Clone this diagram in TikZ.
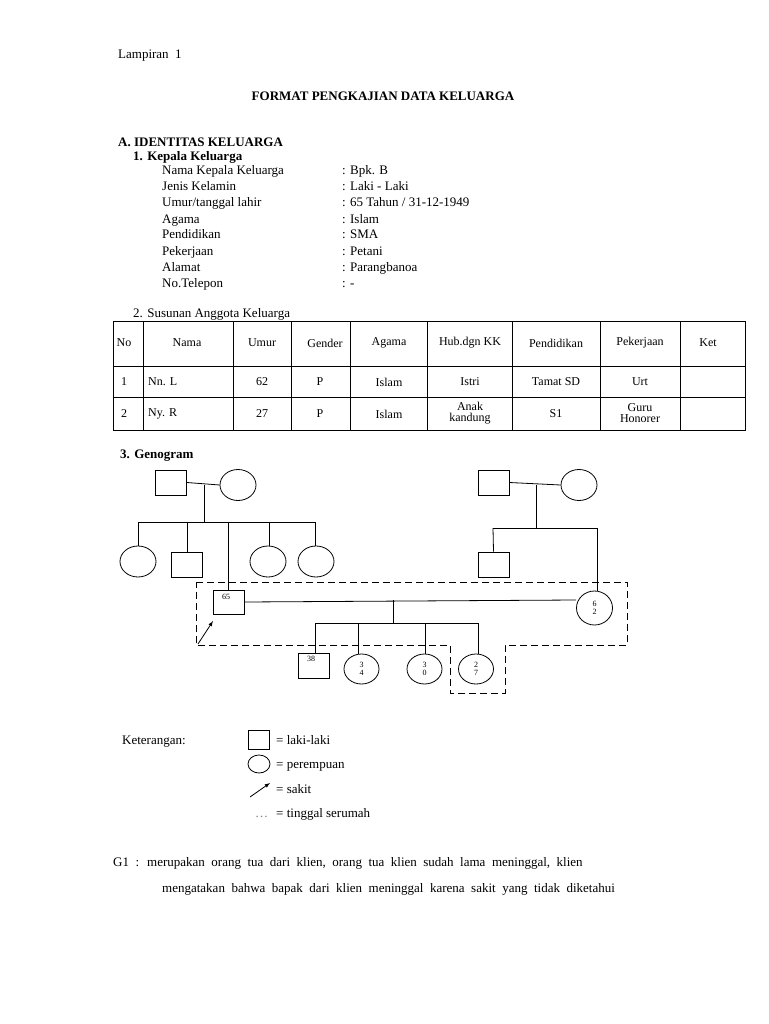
\documentclass[tikz,border=0pt]{standalone}
\usepackage{fontspec}
\setmainfont{Liberation Serif}
\usetikzlibrary{shapes.geometric}
\begin{document}
\begin{tikzpicture}[x=1pt,y=-1pt,
 t/.style={anchor=base west,inner sep=0pt,font=\fontsize{13}{15}\selectfont},
 tb/.style={t,font=\fontsize{13}{15}\selectfont\bfseries},
 tc/.style={anchor=center,inner sep=0pt,font=\fontsize{12}{13}\selectfont,align=center},
 sq/.style={draw,thick,minimum width=31pt,minimum height=25pt,inner sep=0pt},
 ci/.style={draw,thick,ellipse,minimum width=36pt,minimum height=31pt,inner sep=0pt},
 ln/.style={thick},
 dsh/.style={thick,dash pattern=on 7pt off 4pt},
 sm/.style={font=\fontsize{8}{8.5}\selectfont,align=center,inner sep=0pt}]
\useasboundingbox (0,0) rectangle (768,1024);
\fill[white] (0,0) rectangle (768,1024);
\node[t] (lamp) at (118,59) {Lampiran\ \ 1};
\node[tb,anchor=base] (title) at (383,101) {FORMAT PENGKAJIAN DATA KELUARGA};
\node[tb] (ha) at (118,147) {A. IDENTITAS KELUARGA};
\node[tb] (h1) at (133,161) {1. Kepala Keluarga};
\foreach \i/\a/\b in {0/{Nama Kepala Keluarga}/{: Bpk. B},1/{Jenis Kelamin}/{: Laki - Laki},2/{Umur/tanggal lahir}/{: 65 Tahun / 31-12-1949},3/{Agama}/{: Islam},4/{Pendidikan}/{: SMA},5/{Pekerjaan}/{: Petani},6/{Alamat}/{: Parangbanoa},7/{No.Telepon}/{: -}}{
 \node[t] (fa\i) at (162,175+16*\i) {\a};
 \node[t] (fb\i) at (342,175+16*\i) {\b};
}
\node[t] (h2) at (133,317) {2. Susunan Anggota Keluarga};
% table
\draw[thick] (113,321) rectangle (745,430);
\draw[thick] (113,366) -- (745,366) (113,397) -- (745,397);
\foreach \x in {143,233,291,350,427,512,600,680} \draw[thick] (\x,321) -- (\x,430);
\foreach \c/\x in {No/124,Nama/187,Umur/262,Gender/325,Agama/389,Hub.dgn KK/470,Pendidikan/556,Pekerjaan/640,Ket/708}
 \node[tc] at (\x,343) {\c};
\node[tc] at (124,382) {1}; \node[tc,anchor=west] at (148,382) {Nn. L};
\node[tc] at (262,382) {62}; \node[tc] at (320,382) {P}; \node[tc] at (389,382) {Islam};
\node[tc] at (470,382) {Istri}; \node[tc] at (556,382) {Tamat SD}; \node[tc] at (640,382) {Urt};
\node[tc] at (124,414) {2}; \node[tc,anchor=west] at (148,414) {Ny. R};
\node[tc] at (262,414) {27}; \node[tc] at (320,414) {P}; \node[tc] at (389,414) {Islam};
\node[tc,font=\fontsize{12}{11}\selectfont] at (470,413) {Anak\\kandung}; \node[tc] at (556,414) {S1};
\node[tc,font=\fontsize{12}{11}\selectfont] at (640,413) {Guru\\Honorer};
% genogram
\node[tb] (h3) at (120,458) {3. Genogram};
\node[sq] (g1a) at (171,482.5) {};
\node[ci] (g1b) at (238,485) {};
\node[sq] (g2a) at (493.5,482.5) {};
\node[ci] (g2b) at (579,485) {};
\node[ci] (s1) at (138,561.5) {};
\node[sq] (s2) at (187,564.5) {};
\node[sq,minimum height=24pt] (p65) at (228.5,602) {};
\node[sm,anchor=north] at (226,594) {65};
\node[ci] (s4) at (268,561.5) {};
\node[ci] (s5) at (316,561.5) {};
\node[sq] (r1) at (493.5,564.5) {};
\node[ci,minimum height=34pt] (p62) at (594.5,608) {};
\node[sm] at (594.5,608) {6\\2};
\node[sq] (c1) at (313.5,665.5) {};
\node[sm,anchor=north] at (311,656) {38};
\node[ci,minimum width=35pt,minimum height=30pt] (c2) at (361.5,669) {};
\node[sm] at (361.5,669) {3\\4};
\node[ci,minimum width=35pt,minimum height=30pt] (c3) at (424.5,669) {};
\node[sm] at (424.5,669) {3\\0};
\node[ci,minimum width=35pt,minimum height=30pt] (c4) at (476,669) {};
\node[sm] at (476,669) {2\\7};
\draw[ln] (g1a.east) -- (g1b.west);
\draw[ln] (204,485) -- (204,522);
\draw[ln] (138,522) -- (315,522);
\draw[ln] (138,522) -- (s1.north);
\draw[ln] (187,522) -- (s2.north);
\draw[ln] (228,522) -- (228,590);
\draw[ln] (269,522) -- (269,546);
\draw[ln] (315,522) -- (315,546);
\draw[ln] (g2a.east) -- (g2b.west);
\draw[ln] (536,485) -- (536,528);
\draw[ln] (493,528) -- (597,528);
\draw[ln] (493,528) -- (r1.north);
\draw[ln] (597,528) -- (597,591);
\draw[ln] (p65.east) -- (576,600);
\draw[ln] (393,600) -- (393,623);
\draw[ln] (315,623) -- (478,623);
\draw[ln] (315,623) -- (315,653);
\draw[ln] (358,623) -- (358,654);
\draw[ln] (425,623) -- (425,654);
\draw[ln] (478,623) -- (478,654);
\draw[dsh] (196,582) -- (627,582) -- (627,645) -- (505,645) -- (505,693) -- (450,693) -- (450,645) -- (196,645) -- cycle;
\draw[thick,-latex] (198,644) -- (213,621);
% legend
\node[t] (ket) at (122,744) {Keterangan:};
\node[draw,thick,minimum width=21pt,minimum height=19pt,inner sep=0pt] (lsq) at (259,740) {};
\node[t] (l1) at (276,744) {= laki-laki};
\node[draw,thick,ellipse,minimum width=22pt,minimum height=18pt,inner sep=0pt] (lci) at (259,764) {};
\node[t] (l2) at (276,768) {= perempuan};
\coordinate (a1) at (250,797); \coordinate (a2) at (270,783);
\draw[thick,-latex] (a1) -- (a2);
\node[t] (l3) at (276,793) {= sakit};
\node[t,text=gray] (dots) at (255,817) {\ldots};
\node[t] (l4) at (276,817) {= tinggal serumah};
% G1
\node[t] (g1) at (113,866) {G1\ \ :};
\node[t,text width=517pt,align=justify] (gl1) at (147,866) {merupakan\ \ orang\ \ tua\ \ dari\ \ klien,\ \ orang\ \ tua\ \ klien\ \ sudah\ \ lama\ \ meninggal,\ \ klien};
\node[t] (gl2) at (162,892) {mengatakan\ \ bahwa\ \ bapak\ \ dari\ \ klien\ \ meninggal\ \ karena\ \ sakit\ \ yang\ \ tidak\ \ diketahui};
\end{tikzpicture}
\end{document}
